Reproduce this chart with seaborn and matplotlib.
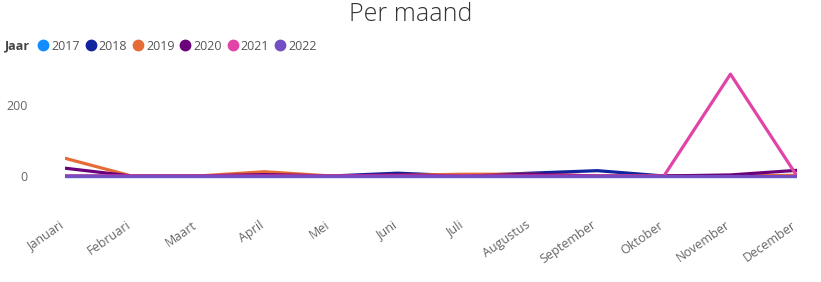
import matplotlib
matplotlib.use("Agg")
import matplotlib.pyplot as plt
import matplotlib.transforms as mtransforms
from matplotlib.lines import Line2D
import seaborn as sns
import pandas as pd
import numpy as np

months = ["Januari", "Februari", "Maart", "April", "Mei", "Juni", "Juli",
          "Augustus", "September", "Oktober", "November", "December"]
years = ["2017", "2018", "2019", "2020", "2021", "2022"]
v2017 = [0, 0, 0, 0, 0, 0, 0, 0, 0, 0, 0, 0]
v2018 = [0, 0, 0, 2, 0, 8, 0, 8, 15, 0, 0, 0]
v2019 = [50, 0, 0, 12, 0, 2, 5, 5, 0, 0, 0, 2]
v2020 = [22, 0, 0, 4, 0, 3, 0, 5, 0, 0, 3, 16]
v2021 = [0, 0, 0, 0, 0, 0, 0, 0, 0, 0, 287, 0]
v2022 = [0, 0, 0, 0, 0, 0, 0, 0, 0, 0, 0, 0]
colors = ["#118DFF", "#12239E", "#E66C37", "#6B007B", "#E044A7", "#744EC2"]

rows = []
for y, vals in zip(years, [v2017, v2018, v2019, v2020, v2021, v2022]):
    for i, (m, v) in enumerate(zip(months, vals)):
        rows.append({"Jaar": y, "idx": i, "Maand": m, "Waarde": v})
df = pd.DataFrame(rows)

sns.set_style("white")
plt.rcParams["font.family"] = ["Open Sans", "DejaVu Sans"]

fig = plt.figure(figsize=(8.21, 2.82), dpi=100)
ax = fig.add_axes([65/821, 0.25, (797-65)/821, 142/282])
sns.lineplot(data=df, x="idx", y="Waarde", hue="Jaar", hue_order=years,
             palette=colors, linewidth=2.3, ax=ax, legend=False, sort=True)
ax.set_xlim(0, 11)
ax.set_ylim(-100, 300)
ax.set_yticks([0, 200])
ax.set_yticklabels(["0", "200"], color="#666666", fontsize=9)
ax.set_xticks(range(12))
ax.set_xticklabels(months, rotation=35, ha="right", rotation_mode="anchor",
                   color="#666666", fontsize=9)
ax.tick_params(axis="both", length=0)
ax.tick_params(axis="y", pad=27)
ax.tick_params(axis="x", pad=5)
shift = mtransforms.ScaledTranslation(-6/100, 0, fig.dpi_scale_trans)
for lab in ax.get_xticklabels():
    lab.set_transform(lab.get_transform() + shift)
ax.set_xlabel("")
ax.set_ylabel("")
for s in ax.spines.values():
    s.set_visible(False)
ax.grid(False)

fig.text(0.5, 1 - 21/282, "Per maand", ha="center", va="baseline",
         fontsize=18, color="#333333", fontweight="light")
fig.text(5/821, 1 - 46/282, "Jaar", ha="left", va="center", fontsize=9,
         fontweight="bold", color="#444444")
handles = [Line2D([], [], marker="o", linestyle="", markersize=8.5,
                  color=c, markeredgewidth=0) for c in colors]
fig.legend(handles, years, loc="center left",
           bbox_to_anchor=(37/821, 1 - 46/282), ncol=6, frameon=False,
           handletextpad=0.15, columnspacing=0.36, handlelength=1.0,
           fontsize=9, labelcolor="#555555", borderaxespad=0, borderpad=0)

fig.savefig("out.png", dpi=100)
